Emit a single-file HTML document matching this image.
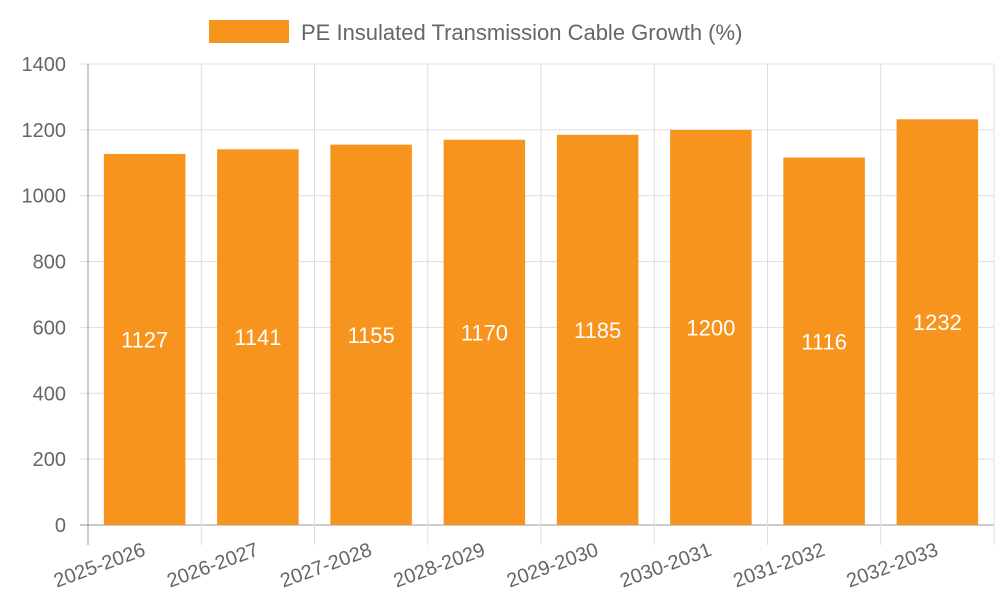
<!DOCTYPE html>
<html><head><meta charset="utf-8"><style>
body{margin:0;background:#fff}
svg{font-family:"Liberation Sans",sans-serif}
</style></head><body>
<svg id="c" width="1000" height="600">
<g>
<rect x="209" y="20" width="80" height="23" fill="#f7941e"/>
<text x="301" y="40" font-size="22" fill="#666">PE Insulated Transmission Cable Growth (%)</text>
</g>
<g id="grid"></g><g id="bars"></g><g id="labels"></g>
</svg>
<script>
const categories=["2025-2026","2026-2027","2027-2028","2028-2029","2029-2030","2030-2031","2031-2032","2032-2033"];
const values=[1127,1141,1155,1170,1185,1200,1116,1232];
const yTicks=[0,200,400,600,800,1000,1200,1400];
const X0=88,X1=994,Y0=525,Y1=64,YMAX=1400;
const NS="http://www.w3.org/2000/svg";
const cw=(X1-X0)/categories.length;
const y=v=>Y0-(v/YMAX)*(Y0-Y1);
const x=i=>X0+i*cw;
function mk(t,a,p){const e=document.createElementNS(NS,t);for(const k in a)e.setAttribute(k,a[k]);p.appendChild(e);return e;}
const g=document.getElementById('grid'),b=document.getElementById('bars'),l=document.getElementById('labels');
yTicks.forEach(t=>{
 const ln=mk('line',{x1:X0-8,x2:X1,y1:y(t),y2:y(t),stroke:t===0?'#999':'#ddd','stroke-width':1},g);
 
 
 const tx=mk('text',{x:X0-22,y:y(t)+7,'text-anchor':'end','font-size':20,fill:'#666'},g);
 tx.textContent=t;
 
 
});
for(let i=0;i<=categories.length;i++){
 const ln=mk('line',{x1:x(i),x2:x(i),y1:Y1,y2:Y0+20,stroke:i===0?'#999':'#ddd','stroke-width':1},g);
 
 
}
categories.forEach((c,i)=>{
 const bw=cw*0.72,bx=x(i)+(cw-bw)/2;
 const r=mk('rect',{x:bx,y:y(values[i]),width:bw,height:Y0-y(values[i]),fill:'#f7941e'},b);
 
 
 const v=mk('text',{x:bx+bw/2,y:(y(values[i])+Y0)/2+8,'text-anchor':'middle','font-size':22,fill:'#fff'},l);
 v.textContent=values[i];
 
 
 const cx=x(i)+cw/2+2,cy=Y0+30;
 const t=mk('text',{x:cx,y:cy,'text-anchor':'end','font-size':20,fill:'#666',transform:`rotate(-20 ${cx} ${cy})`},l);
 t.textContent=c;
 
 
});
</script>
</body></html>
